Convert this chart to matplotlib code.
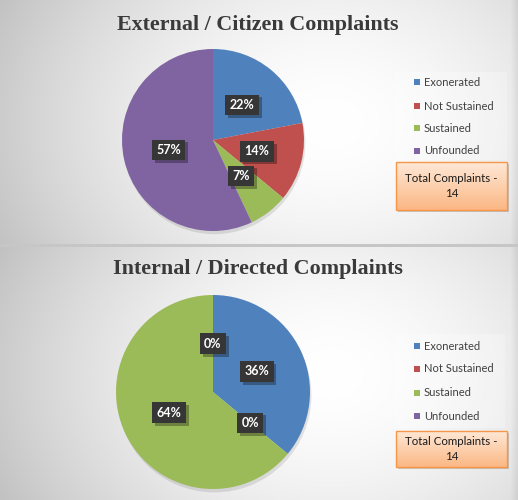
import numpy as np
import matplotlib
matplotlib.use("Agg")
import matplotlib.pyplot as plt
from matplotlib.patches import Rectangle
import matplotlib.patheffects as pe

# ---- data ----
categories = ["Exonerated", "Not Sustained", "Sustained", "Unfounded"]
colors = ["#4F81BD", "#C0504D", "#9BBB59", "#8064A2"]
external_title = "External / Citizen Complaints"
external_pct = [22, 14, 7, 57]
external_total = 14
internal_title = "Internal / Directed Complaints"
internal_pct = [36, 0, 64, 0]
internal_total = 14

W, H = 518, 500
fig = plt.figure(figsize=(W / 100, H / 100), dpi=100)

# ---- background gradient ----
bg = fig.add_axes([0, 0, 1, 1])
bg.set_xlim(0, W)
bg.set_ylim(H, 0)
bg.axis("off")
yy, xx = np.mgrid[0:H, 0:W]
img = np.zeros((H, W))
for (y0, y1) in [(0, 245), (247, 500)]:
    cy = (y0 + y1) / 2
    mask = (yy >= y0) & (yy < y1)
    d = np.sqrt(((xx - 330) / 340.0) ** 2 + ((yy - cy) / 260.0) ** 2)
    val = 1.0 - 0.21 * np.clip(d, 0, 1.4) ** 1.7
    img[mask] = val[mask]
img[:, 510:] -= np.linspace(0, 0.06, W - 510)[None, :]
img[244:247, :] = 0.78
img = np.clip(img, 0, 1)
bg.imshow(np.dstack([img, img, img]), extent=(0, W, H, 0), aspect="auto", zorder=0)


def px_axes(cx, cy, r):
    return fig.add_axes([(cx - r) / W, (H - cy - r) / H, 2 * r / W, 2 * r / H])


def draw_panel(title, pct, total, title_y, cx, cy, r, leg_rows, leg_box, tot_box):
    fig.text(258 / W, 1 - title_y / H, title, ha="center", va="center",
             fontsize=15.8, fontweight="bold", family="Liberation Serif", color="#3a3a3a")
    ax = px_axes(cx, cy, r)
    ax.pie([1], radius=1.0, colors=["#000000"], center=(0.015, -0.035),
           wedgeprops=dict(alpha=0.10, linewidth=0, clip_on=False))
    wedges, _ = ax.pie(pct, colors=colors, startangle=90, counterclock=False,
                       radius=1.0, wedgeprops=dict(linewidth=0, clip_on=False))
    ax.set_xlim(-1.0, 1.0)
    ax.set_ylim(-1.0, 1.0)
    ax.axis("off")
    total_pct = float(sum(pct))
    start = 90.0
    for v in pct:
        sweep = 360.0 * v / total_pct
        mid = np.deg2rad(start - sweep / 2)
        start -= sweep
        lx, ly = 0.5 * np.cos(mid), 0.5 * np.sin(mid)
        t = ax.text(lx, ly, f"{v}%", ha="center", va="center", color="white",
                    fontsize=9, fontweight="bold", family="Lato",
                    bbox=dict(boxstyle="square,pad=0.35", fc="#363636", ec="none"))
        t.get_bbox_patch().set_path_effects(
            [pe.SimplePatchShadow(offset=(2, -2), shadow_rgbFace="black", alpha=0.3),
             pe.Normal()])
    lx0, ly0, lx1, ly1 = leg_box
    bg.add_patch(Rectangle((lx0, ly0), lx1 - lx0, ly1 - ly0, fc="white", ec="none",
                           alpha=0.25, zorder=1))
    for name, col, ry in zip(categories, colors, leg_rows):
        bg.add_patch(Rectangle((414, ry - 3), 6, 6, fc=col, ec="none", zorder=2))
        bg.text(424, ry, name, ha="left", va="center", fontsize=8, family="Lato",
                color="#404040", zorder=3)
    tx0, ty0, tx1, ty1 = tot_box
    bg.add_patch(Rectangle((tx0 + 2, ty0 + 2), tx1 - tx0, ty1 - ty0, fc="#000000",
                           alpha=0.18, ec="none", zorder=2))
    gy = np.linspace(0, 1, 50)[:, None]
    top = np.array([0.996, 0.91, 0.84])
    bot = np.array([0.985, 0.72, 0.52])
    grad = top[None, None, :] * (1 - gy[..., None]) + bot[None, None, :] * gy[..., None]
    grad = np.repeat(grad, 2, axis=1)
    bg.imshow(grad, extent=(tx0, tx1, ty1, ty0), aspect="auto", zorder=3)
    bg.add_patch(Rectangle((tx0, ty0), tx1 - tx0, ty1 - ty0, fc="none", ec="#F79646",
                           lw=1.0, zorder=4))
    bg.text((tx0 + tx1) / 2, (ty0 + ty1) / 2, f"Total Complaints -\n{total}",
            ha="center", va="center", fontsize=8.3, family="Lato", color="#1a1a1a",
            linespacing=1.45, zorder=5)


draw_panel(external_title, external_pct, external_total, 25, 213, 140, 91,
           [82, 106, 128, 151], (395, 72, 507, 160), (396, 162, 507, 210))
draw_panel(internal_title, internal_pct, internal_total, 269, 213, 392, 97,
           [346, 369, 393, 416], (395, 334, 505, 428), (396, 431, 507, 467))

bg.set_xlim(0, W)
bg.set_ylim(H, 0)
fig.savefig("out.png", dpi=100)
